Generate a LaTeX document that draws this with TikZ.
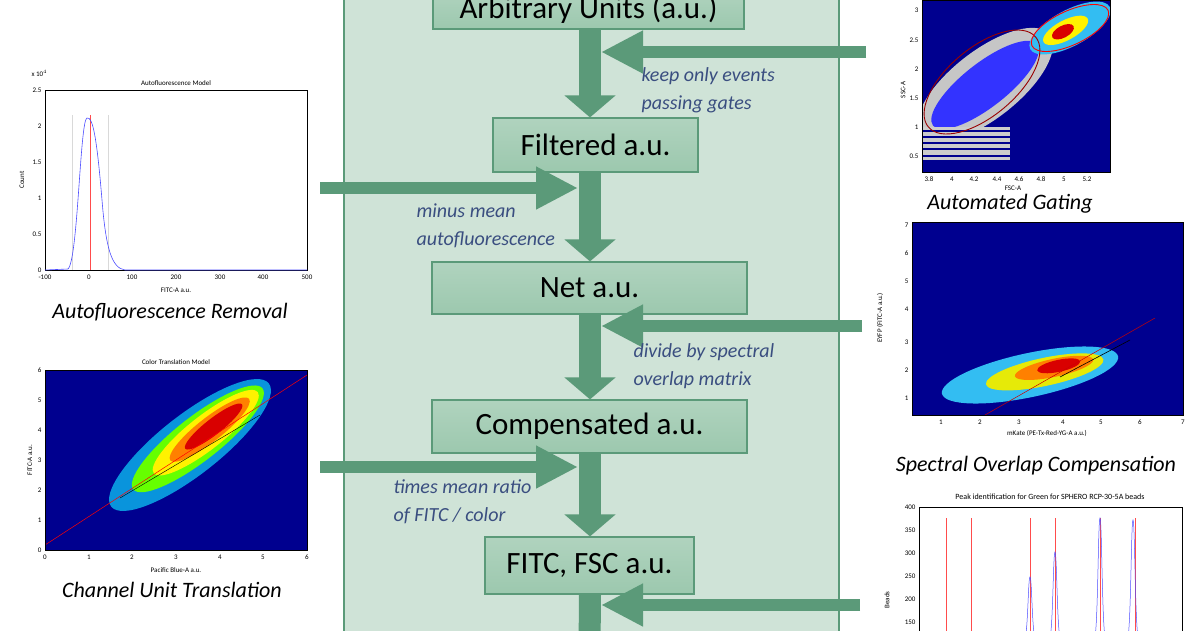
\documentclass[tikz,border=0pt]{standalone}
\usepackage{fontspec}
\setmainfont{Carlito}
\usetikzlibrary{arrows.meta}
\definecolor{pan}{HTML}{CFE3D7}
\definecolor{gb}{HTML}{5B9A79}
\definecolor{bx}{HTML}{9CC8AE}
\definecolor{lab}{HTML}{3A4E80}
\definecolor{dk}{HTML}{00008F}
\begin{document}
\begin{tikzpicture}[x=1pt,y=-1pt,
 box/.style={draw=gb,line width=1.2pt,top color=bx!80!white,bottom color=bx,inner sep=0pt,font=\fontsize{31}{31}\selectfont},
 va/.style={-{Triangle[width=50pt,length=22pt]},line width=22pt,draw=gb},
 ha/.style={-{Triangle[width=40pt,length=42pt]},line width=12pt,draw=gb},
 lb/.style={text=lab,font=\fontsize{20}{28}\selectfont\itshape,align=left},
 captxt/.style={font=\fontsize{22}{24}\selectfont\itshape},
 tk/.style={font=\fontsize{7}{8}\selectfont}]
\useasboundingbox (0,0) rectangle (1200,630);
\fill[white] (0,0) rectangle (1200,630);
\draw[gb,line width=1.2pt,fill=pan] (344,-5) rectangle (839,640);
% boxes
\node[box,minimum width=311pt,minimum height=38pt] (b0) at (588.5,10) {Arbitrary Units (a.u.)};
\node[box,minimum width=205pt,minimum height=54pt] (b1) at (595.5,145) {Filtered a.u.};
\node[box,minimum width=315pt,minimum height=52pt] (b2) at (589.5,288) {Net a.u.};
\node[box,minimum width=315pt,minimum height=53pt] (b3) at (589.5,426.5) {Compensated a.u.};
\node[box,minimum width=209pt,minimum height=57pt] (b4) at (589.5,565.5) {FITC, FSC a.u.};
\coordinate (b5) at (589.5,650);
\draw[va] (b0.south -| 590,0) -- (b1.north -| 590,0);
\draw[va] (b1.south -| 590,0) -- (b2.north -| 590,0);
\draw[va] (b2.south -| 590,0) -- (b3.north -| 590,0);
\draw[va] (b3.south -| 590,0) -- (b4.north -| 590,0);
\draw[line width=22pt,gb] (b4.south -| 590,0) -- (b5);
% horizontal arrows
\coordinate (r1) at (866,52); \coordinate (t1) at (601,52);
\coordinate (l2) at (320,188); \coordinate (t2) at (578,188);
\coordinate (r3) at (862,326); \coordinate (t3) at (601,326);
\coordinate (l4) at (320,467); \coordinate (t4) at (578,467);
\coordinate (r5) at (860,605); \coordinate (t5) at (601,605);
\foreach \a/\b in {r1/t1,l2/t2,r3/t3,l4/t4,r5/t5} \draw[ha] (\a) -- (\b);
\node[lb,anchor=west] (n1) at (638,90) {keep only events\\passing gates};
\node[lb,anchor=west] (n2) at (413,226) {minus mean\\autofluorescence};
\node[lb,anchor=west] (n3) at (630,366) {divide by spectral\\overlap matrix};
\node[lb,anchor=west] (n4) at (390,502) {times mean ratio\\of FITC / color};
% ---- plot 1: autofluorescence
\draw[line width=0.4pt] (45,90) rectangle (307,270);
\node[tk] (p1t) at (176,83) {Autofluorescence Model};
\node[tk,anchor=west] (p1e) at (28,73) {x 10$^4$};
\foreach \v/\y in {0/270,0.5/234,1/198,1.5/162,2/126,2.5/90} \node[tk,anchor=east] at (45,\y) {\v};
\foreach \v/\x in {-100/45,0/89,100/132,200/176,300/220,400/263,500/307} \node[tk,anchor=north] at (\x,271) {\v};
\node[tk] (p1x) at (176,290) {FITC-A a.u.};
\node[tk,rotate=90] (p1y) at (22,180) {Count};
\draw[red!70,line width=0.6pt] (90,115) -- (90,270);
\draw[gray!30] (72,115) -- (72,270) (108,115) -- (108,270);
\draw[blue!70,line width=0.6pt] (45,270) -- (68,269) .. controls (78,260) and (80,120) .. (87,118) .. controls (93,116) and (97,140) .. (102,200) .. controls (106,250) and (112,268) .. (125,270) -- (307,270);
\node[captxt] (c1) at (170,312) {Autofluorescence Removal};
% ---- plot 2: color translation
\node[tk] (p2t) at (176,362) {Color Translation Model};
\fill[dk] (45,370) rectangle (307,550);
\begin{scope}
\clip (45,370) rectangle (307,550);
\begin{scope}[shift={(190,445)},rotate=38]
\fill[cyan!80!blue] (0,0) ellipse (100 and 30);
\fill[green!60!yellow] (10,0) ellipse (82 and 22);
\fill[yellow] (20,0) ellipse (66 and 17);
\fill[orange] (25,0) ellipse (50 and 12);
\fill[red!85!black] (30,0) ellipse (36 and 8);
\end{scope}
\draw[red,line width=0.5pt] (45,545) -- (307,375);
\draw[black,line width=0.4pt] (120,498) -- (260,415);
\end{scope}
\draw[line width=0.4pt] (45,370) rectangle (307,550);
\foreach \v/\y in {0/550,1/520,2/490,3/460,4/430,5/400,6/370} \node[tk,anchor=east] at (45,\y) {\v};
\foreach \v/\x in {0/45,1/89,2/132,3/176,4/220,5/263,6/307} \node[tk,anchor=north] at (\x,551) {\v};
\node[tk] (p2x) at (176,570) {Pacific Blue-A a.u.};
\node[tk,rotate=90] (p2y) at (30,460) {FITC-A a.u.};
\node[captxt] (c2) at (172,590) {Channel Unit Translation};
% ---- plot 3: gating
\fill[dk] (922,0) rectangle (1110,172);
\begin{scope}
\clip (922,0) rectangle (1110,172);
\begin{scope}[shift={(985,85)},rotate=38]
\fill[gray!45] (0,0) ellipse (82 and 34);
\fill[blue!80] (0,0) ellipse (66 and 22);
\end{scope}
\fill[gray!40] (922,127) rectangle (1010,160);
\foreach \y in {130,136,142,148,155} \fill[dk] (922,\y) rectangle (1020,\y+2);
\begin{scope}[shift={(1070,28)},rotate=28]
\fill[cyan!80] (0,0) ellipse (45 and 18);
\fill[yellow] (-5,0) ellipse (25 and 10);
\fill[red!85!black] (-8,0) ellipse (12 and 6);
\end{scope}
\draw[red!60!black,line width=0.9pt,rotate around={40:(982,82)}] (982,82) ellipse (70 and 34);
\draw[red,line width=0.9pt,rotate around={25:(1070,28)}] (1070,28) ellipse (42 and 17);
\end{scope}
\draw[line width=0.4pt] (922,0) rectangle (1110,172);
\foreach \v/\y in {3/10,2.5/40,2/69,1.5/98,1/127,0.5/156} \node[tk,anchor=east] at (922,\y) {\v};
\foreach \v/\x in {3.8/929,4/952,4.2/974,4.4/997,4.6/1019,4.8/1041,5/1064,5.2/1087} \node[tk,anchor=north] at (\x,173) {\v};
\node[tk] (p3x) at (1013,188) {FSC-A};
\node[tk,rotate=90] (p3y) at (903,90) {SSC-A};
\node[captxt] (c3) at (1010,204) {Automated Gating};
% ---- plot 4: spectral
\fill[dk] (912,222) rectangle (1183,415);
\begin{scope}
\clip (912,222) rectangle (1183,415);
\begin{scope}[shift={(1030,375)},rotate=12]
\fill[cyan!80] (0,0) ellipse (90 and 22);
\fill[yellow!90!green] (15,0) ellipse (60 and 14);
\fill[orange] (25,-2) ellipse (40 and 9);
\fill[red!85!black] (30,-3) ellipse (22 and 6);
\end{scope}
\draw[red!80!black,line width=0.5pt] (985,415) -- (1155,318);
\draw[black,line width=0.6pt] (1060,377) -- (1130,340);
\end{scope}
\draw[line width=0.4pt] (912,222) rectangle (1183,415);
\foreach \v/\y in {1/398,2/370,3/342,4/309,5/281,6/253,7/225} \node[tk,anchor=east] at (912,\y) {\v};
\foreach \v/\x in {1/941,2/980,3/1019,4/1063,5/1101,6/1140,7/1183} \node[tk,anchor=north] at (\x,416) {\v};
\node[tk] (p4x) at (1047,433) {mKate (PE-Tx-Red-YG-A a.u.)};
\node[tk,rotate=90] (p4y) at (880,318) {EYFP (FITC-A a.u.)};
\node[captxt] (c4) at (1036,466) {Spectral Overlap Compensation};
% ---- plot 5: beads
\node[tk,font=\fontsize{8}{9}\selectfont] (p5t) at (1050,497) {Peak identification for Green for SPHERO RCP-30-5A beads};
\draw[line width=0.4pt] (919,507) -- (1182,507) -- (1182,640) (919,507) -- (919,640);
\foreach \v/\y in {400/507,350/530,300/553,250/576,200/599,150/622} \node[tk,anchor=east] at (919,\y) {\v};
\node[tk,rotate=90] (p5y) at (887,600) {Beads};
\foreach \x in {946,971,1030,1055,1100,1135} \draw[red!70,line width=0.5pt] (\x,518) -- (\x,640);
\foreach \x/\h in {1030/577,1055/552,1100/518,1133/520} \draw[blue!70,line width=0.5pt] (\x-6,640) .. controls (\x-2,640) and (\x-2,\h) .. (\x,\h) .. controls (\x+2,\h) and (\x+2,640) .. (\x+6,640);
\end{tikzpicture}
\end{document}
